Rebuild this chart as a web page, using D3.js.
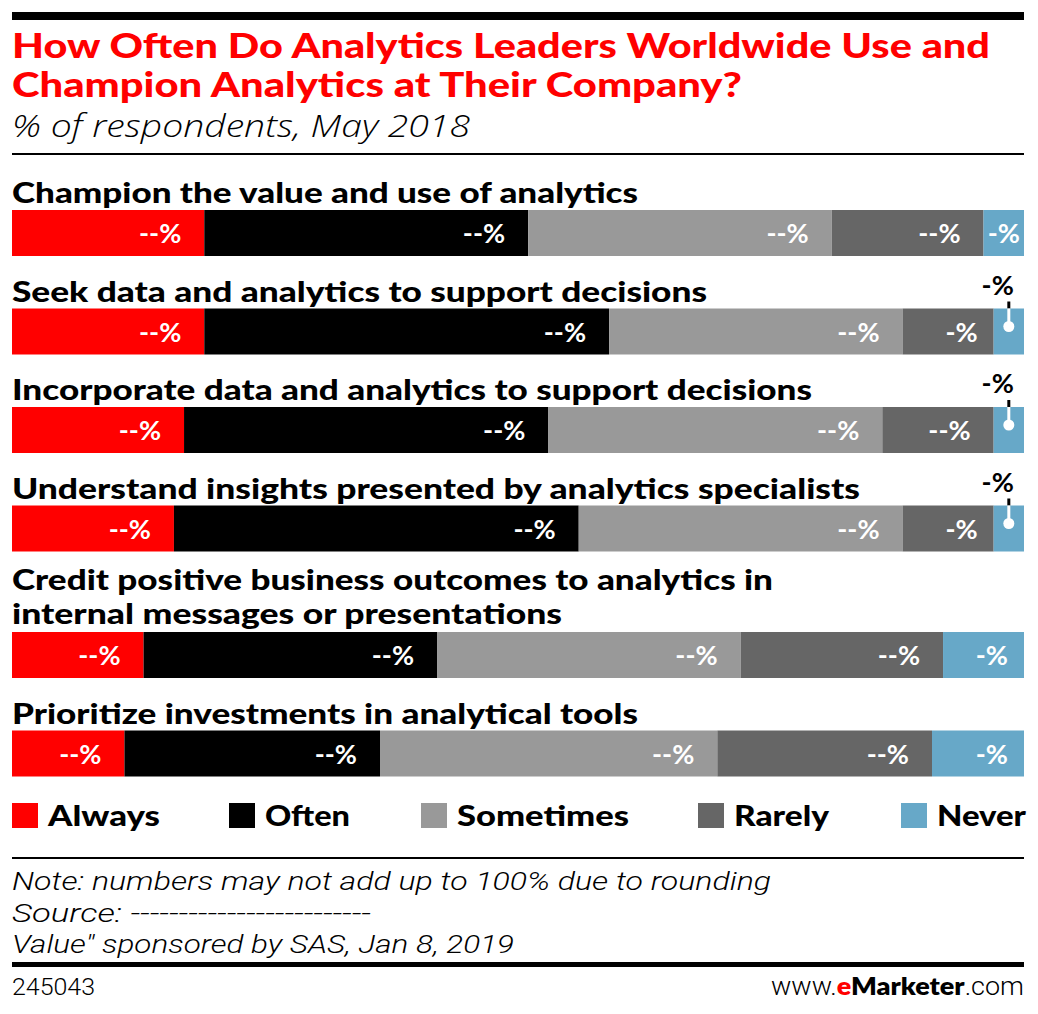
<!DOCTYPE html>
<html><head><meta charset="utf-8">
<script src="https://cdn.jsdelivr.net/npm/d3@7"></script>
<style>body{margin:0;background:#fff}svg{display:block}</style>
</head><body>
<svg id="c" width="1038" height="1014"></svg>
<script>
const categories = [
  ["Champion the value and use of analytics"],
  ["Seek data and analytics to support decisions"],
  ["Incorporate data and analytics to support decisions"],
  ["Understand insights presented by analytics specialists"],
  ["Credit positive business outcomes to analytics in", "internal messages or presentations"],
  ["Prioritize investments in analytical tools"]
];
const seriesNames = ["Always", "Often", "Sometimes", "Rarely", "Never"];
const always    = [19, 19, 17, 16, 13, 11];
const often     = [32, 40, 36, 40, 29, 25];
const sometimes = [30, 29, 33, 32, 30, 33];
const rarely    = [15, 9, 11, 9, 20, 21];
const never     = [4, 3, 3, 3, 8, 9];
const seriesValues = [always, often, sometimes, rarely, never];
const colors = ["#ff0000", "#000000", "#999999", "#666666", "#67a8c8"];
const labelWidths = [[626], [695], [800], [848], [761, 550], [626]];

const svg = d3.select("#c");
const L = 12, R = 1024;
const BOLD = "Lato, 'Open Sans', sans-serif";
const LIGHT = "'Open Sans', Roboto, sans-serif";
const NOTE = "Roboto, 'Open Sans', sans-serif";

// top rule
svg.append("rect").attr("x", L).attr("y", 12).attr("width", R - L).attr("height", 8).attr("fill", "#000");

// title
const titleLines = ["How Often Do Analytics Leaders Worldwide Use and", "Champion Analytics at Their Company?"];
const titleW = [978, 730];
const tt = svg.append("text").attr("font-family", BOLD).attr("font-weight", 900).attr("font-size", 35).attr("fill", "#ff0000");
titleLines.forEach((t, i) => {
  tt.append("tspan").attr("x", L).attr("y", 58 + i * 38.5)
    .attr("textLength", titleW[i]).attr("lengthAdjust", "spacingAndGlyphs").text(t);
});
svg.append("text").attr("x", L).attr("y", 137)
  .attr("font-family", LIGHT).attr("font-style", "italic").attr("font-weight", 300).attr("font-size", 31)
  .attr("fill", "#000").attr("textLength", 458).attr("lengthAdjust", "spacingAndGlyphs").text("% of respondents, May 2018");
svg.append("rect").attr("x", L).attr("y", 153).attr("width", R - L).attr("height", 2).attr("fill", "#000");

// layout
const barH = 46, pitch = 98.5, extraLine = 28, lineH = 34;
let tops = [];
let y = 210;
categories.forEach((c, i) => {
  if (i > 0) y += pitch + (c.length - 1) * extraLine;
  tops.push(y);
});

const rows = categories.map((c, i) => {
  const vals = seriesValues.map(s => s[i]);
  const total = d3.sum(vals);
  let cum = 0;
  const segs = vals.map((v, k) => { const s = {k, v, x0: cum, x1: cum + v}; cum += v; return s; });
  return {c, i, total, segs, top: tops[i]};
});

rows.forEach(row => {
  const x = d3.scaleLinear().domain([0, row.total]).range([L, R]);
  const g = svg.append("g");
  const n = row.c.length;
  row.c.forEach((t, j) => {
    g.append("text").attr("font-family", BOLD).attr("font-weight", 900).attr("font-size", 28).attr("fill", "#000")
      .attr("x", L).attr("y", row.top - 7 - (n > 1 ? 1 : 0) - (n - 1 - j) * lineH)
      .attr("textLength", labelWidths[row.i][j]).attr("lengthAdjust", "spacingAndGlyphs").text(t);
  });
  g.selectAll("rect.seg").data(row.segs).join("rect").attr("class", "seg")
    .attr("x", d => x(d.x0)).attr("y", row.top)
    .attr("width", d => x(d.x1) - x(d.x0)).attr("height", barH)
    .attr("fill", d => colors[d.k]);
  row.segs.forEach(d => {
    const lbl = "-".repeat(String(d.v).length) + "%";
    const w = x(d.x1) - x(d.x0);
    if (d.v <= 3) {
      const cx = (x(d.x0) + x(d.x1)) / 2;
      g.append("line").attr("x1", cx).attr("x2", cx).attr("y1", row.top - 7).attr("y2", row.top)
        .attr("stroke", "#000").attr("stroke-width", 3);
      g.append("line").attr("x1", cx).attr("x2", cx).attr("y1", row.top).attr("y2", row.top + 18)
        .attr("stroke", "#fff").attr("stroke-width", 3);
      g.append("circle").attr("cx", cx).attr("cy", row.top + 18).attr("r", 5.5).attr("fill", "#fff");
      g.append("text").attr("x", cx + 5).attr("y", row.top - 14).attr("text-anchor", "end")
        .attr("font-family", BOLD).attr("font-weight", 700).attr("font-size", 27).attr("fill", "#000").text(lbl);
    } else if (w < 60) {
      g.append("text").attr("x", (x(d.x0) + x(d.x1)) / 2).attr("y", row.top + 33).attr("text-anchor", "middle")
        .attr("font-family", BOLD).attr("font-weight", 700).attr("font-size", 27).attr("fill", "#fff").text(lbl);
    } else {
      const pad = 16 + 7 * (String(d.v).length - 1);
      g.append("text").attr("x", x(d.x1) - pad).attr("y", row.top + 33).attr("text-anchor", "end")
        .attr("font-family", BOLD).attr("font-weight", 700).attr("font-size", 27).attr("fill", "#fff").text(lbl);
    }
  });
});

// legend
const legX = [12, 229, 421, 698, 901];
const legW = [112, 85, 172, 95, 89];
seriesNames.forEach((s, k) => {
  svg.append("rect").attr("x", legX[k]).attr("y", 803).attr("width", 26).attr("height", 25).attr("fill", colors[k]);
  svg.append("text").attr("x", legX[k] + 36).attr("y", 826)
    .attr("font-family", BOLD).attr("font-weight", 900).attr("font-size", 29).attr("fill", "#000")
    .attr("textLength", legW[k]).attr("lengthAdjust", "spacingAndGlyphs").text(s);
});

// footer
svg.append("rect").attr("x", L).attr("y", 857).attr("width", R - L).attr("height", 2).attr("fill", "#000");
const notes = ["Note: numbers may not add up to 100% due to rounding", "Source: -------------------------", "Value\" sponsored by SAS, Jan 8, 2019"];
const noteW = [759, 359, 502];
notes.forEach((t, i) => {
  svg.append("text").attr("font-family", NOTE).attr("font-style", "italic").attr("font-weight", 300)
    .attr("font-size", 26).attr("fill", "#000")
    .attr("x", L).attr("y", 890 + i * 31.5)
    .attr("textLength", noteW[i]).attr("lengthAdjust", "spacingAndGlyphs").text(t);
});
svg.append("rect").attr("x", L).attr("y", 962).attr("width", R - L).attr("height", 5).attr("fill", "#000");
svg.append("text").attr("x", L).attr("y", 995).attr("font-family", NOTE).attr("font-weight", 300)
  .attr("font-size", 24).attr("fill", "#000").attr("textLength", 83).attr("lengthAdjust", "spacingAndGlyphs").text("245043");
const ft = svg.append("text").attr("x", R - 253).attr("y", 995)
  .attr("font-family", NOTE).attr("font-size", 25).attr("fill", "#000")
  .attr("textLength", 253).attr("lengthAdjust", "spacingAndGlyphs");
ft.append("tspan").attr("font-weight", 300).text("www.");
ft.append("tspan").attr("font-weight", 800).attr("fill", "#ff0000").attr("font-family", BOLD).text("e");
ft.append("tspan").attr("font-weight", 800).attr("font-family", BOLD).text("Marketer");
ft.append("tspan").attr("font-weight", 300).text(".com");
</script>
</body></html>
